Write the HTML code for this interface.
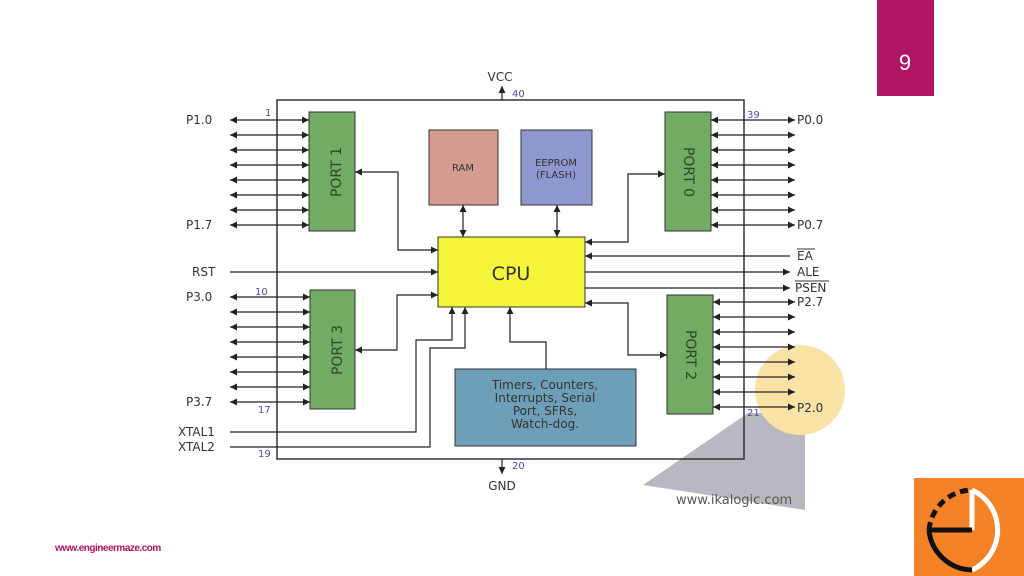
<!DOCTYPE html>
<html><head><meta charset="utf-8"><style>
html,body{margin:0;padding:0;background:#fff;width:1024px;height:576px;overflow:hidden}
svg{display:block}
</style></head><body>
<svg width="1024" height="576" viewBox="0 0 1024 576" xmlns="http://www.w3.org/2000/svg" font-family="'DejaVu Sans','Liberation Sans',sans-serif">
<defs>
<marker id="a" viewBox="0 0 10 10" refX="10" refY="5" markerWidth="9" markerHeight="7" orient="auto-start-reverse" markerUnits="userSpaceOnUse"><path d="M0,0L10,5L0,10z" fill="#222"/></marker>
</defs>
<rect x="877" y="0" width="57" height="96" fill="#b01464"/>
<text x="905" y="70" font-family="'Liberation Sans',sans-serif" font-size="22" fill="#fff" text-anchor="middle">9</text>
<rect x="914" y="478" width="110" height="98" fill="#f58226"/>
<path d="M972,490 A44,44 0 0 1 972,570" fill="none" stroke="#fff" stroke-width="5"/>
<path d="M972,570 A44,44 0 0 1 929,530" fill="none" stroke="#111" stroke-width="5"/>
<path d="M929,530 A44,44 0 0 1 972,490" fill="none" stroke="#111" stroke-width="5" stroke-dasharray="8,5"/>
<line x1="972" y1="490" x2="972" y2="530" stroke="#fff" stroke-width="5"/>
<line x1="929" y1="530" x2="972" y2="530" stroke="#111" stroke-width="5"/>
<text x="55" y="551" font-family="'Liberation Sans',sans-serif" font-size="10" font-weight="bold" fill="#b01464" letter-spacing="-0.5">www.engineermaze.com</text>

<polygon points="643,485 748,413 805,413 805,510" fill="#b8b8c0"/>
<circle cx="800" cy="390" r="45" fill="#fbe3a6"/>
<text x="676" y="504" font-size="13" fill="#555">www.ikalogic.com</text>

<g stroke="#333" stroke-width="1.5" fill="none">
<rect x="277" y="100" width="467" height="359"/>
</g>
<rect x="309" y="112" width="46" height="119" fill="#72ab64" stroke="#333"/>
<rect x="310" y="290" width="45" height="119" fill="#72ab64" stroke="#333"/>
<rect x="665" y="112" width="46" height="119" fill="#72ab64" stroke="#333"/>
<rect x="667" y="295" width="46" height="119" fill="#72ab64" stroke="#333"/>
<rect x="429" y="130" width="69" height="75" fill="#d49b8e" stroke="#333"/>
<rect x="521" y="130" width="71" height="75" fill="#8f97d0" stroke="#333"/>
<rect x="438" y="237" width="147" height="70" fill="#f5f53a" stroke="#333"/>
<rect x="455" y="369" width="181" height="77" fill="#6d9fb8" stroke="#333"/>

<g font-size="13" fill="#333" text-anchor="middle">
<text transform="translate(337,172) rotate(-90)" font-size="14" fill="#2a4a22" dominant-baseline="central">PORT 1</text>
<text transform="translate(338,350) rotate(-90)" font-size="14" fill="#2a4a22" dominant-baseline="central">PORT 3</text>
<text transform="translate(688,172) rotate(90)" font-size="14" fill="#2a4a22" dominant-baseline="central">PORT 0</text>
<text transform="translate(690,355) rotate(90)" font-size="14" fill="#2a4a22" dominant-baseline="central">PORT 2</text>
<text x="463" y="171" font-size="10">RAM</text>
<text x="556" y="166" font-size="10">EEPROM</text>
<text x="556" y="178" font-size="10">(FLASH)</text>
<text x="511" y="280" font-size="19">CPU</text>
<text x="545" y="389" font-size="12">Timers, Counters,</text>
<text x="545" y="402" font-size="12">Interrupts, Serial</text>
<text x="545" y="415" font-size="12">Port, SFRs,</text>
<text x="545" y="428" font-size="12">Watch-dog.</text>
<text x="500" y="81" font-size="12">VCC</text>
<text x="502" y="490" font-size="12">GND</text>
</g>
<g font-size="12" fill="#333">
<text x="186" y="124">P1.0</text>
<text x="186" y="229">P1.7</text>
<text x="192" y="276">RST</text>
<text x="186" y="301">P3.0</text>
<text x="186" y="406">P3.7</text>
<text x="178" y="436">XTAL1</text>
<text x="178" y="451">XTAL2</text>
<text x="797" y="124">P0.0</text>
<text x="797" y="229">P0.7</text>
<text x="797" y="260">EA</text>
<line x1="797" y1="249" x2="815" y2="249" stroke="#333" stroke-width="1"/>
<text x="797" y="276">ALE</text>
<text x="795" y="292">PSEN</text>
<line x1="795" y1="281" x2="829" y2="281" stroke="#333" stroke-width="1"/>
<text x="797" y="306">P2.7</text>
<text x="797" y="412">P2.0</text>
</g>
<g font-size="10" fill="#4a4ab0">
<text x="265" y="116">1</text>
<text x="255" y="295">10</text>
<text x="258" y="413">17</text>
<text x="258" y="457">19</text>
<text x="747" y="118">39</text>
<text x="747" y="416">21</text>
<text x="512" y="97">40</text>
<text x="512" y="469">20</text>
</g>

<g stroke="#222" stroke-width="1.2" fill="none">
<line x1="230" y1="120" x2="309" y2="120" marker-start="url(#a)" marker-end="url(#a)"/>
<line x1="230" y1="135" x2="309" y2="135" marker-start="url(#a)" marker-end="url(#a)"/>
<line x1="230" y1="150" x2="309" y2="150" marker-start="url(#a)" marker-end="url(#a)"/>
<line x1="230" y1="165" x2="309" y2="165" marker-start="url(#a)" marker-end="url(#a)"/>
<line x1="230" y1="180" x2="309" y2="180" marker-start="url(#a)" marker-end="url(#a)"/>
<line x1="230" y1="195" x2="309" y2="195" marker-start="url(#a)" marker-end="url(#a)"/>
<line x1="230" y1="210" x2="309" y2="210" marker-start="url(#a)" marker-end="url(#a)"/>
<line x1="230" y1="225" x2="309" y2="225" marker-start="url(#a)" marker-end="url(#a)"/>
<line x1="230" y1="297" x2="310" y2="297" marker-start="url(#a)" marker-end="url(#a)"/>
<line x1="230" y1="312" x2="310" y2="312" marker-start="url(#a)" marker-end="url(#a)"/>
<line x1="230" y1="327" x2="310" y2="327" marker-start="url(#a)" marker-end="url(#a)"/>
<line x1="230" y1="342" x2="310" y2="342" marker-start="url(#a)" marker-end="url(#a)"/>
<line x1="230" y1="357" x2="310" y2="357" marker-start="url(#a)" marker-end="url(#a)"/>
<line x1="230" y1="372" x2="310" y2="372" marker-start="url(#a)" marker-end="url(#a)"/>
<line x1="230" y1="387" x2="310" y2="387" marker-start="url(#a)" marker-end="url(#a)"/>
<line x1="230" y1="402" x2="310" y2="402" marker-start="url(#a)" marker-end="url(#a)"/>
<line x1="711" y1="120" x2="795" y2="120" marker-start="url(#a)" marker-end="url(#a)"/>
<line x1="711" y1="135" x2="795" y2="135" marker-start="url(#a)" marker-end="url(#a)"/>
<line x1="711" y1="150" x2="795" y2="150" marker-start="url(#a)" marker-end="url(#a)"/>
<line x1="711" y1="165" x2="795" y2="165" marker-start="url(#a)" marker-end="url(#a)"/>
<line x1="711" y1="180" x2="795" y2="180" marker-start="url(#a)" marker-end="url(#a)"/>
<line x1="711" y1="195" x2="795" y2="195" marker-start="url(#a)" marker-end="url(#a)"/>
<line x1="711" y1="210" x2="795" y2="210" marker-start="url(#a)" marker-end="url(#a)"/>
<line x1="711" y1="225" x2="795" y2="225" marker-start="url(#a)" marker-end="url(#a)"/>
<line x1="713" y1="302" x2="795" y2="302" marker-start="url(#a)" marker-end="url(#a)"/>
<line x1="713" y1="317" x2="795" y2="317" marker-start="url(#a)" marker-end="url(#a)"/>
<line x1="713" y1="332" x2="795" y2="332" marker-start="url(#a)" marker-end="url(#a)"/>
<line x1="713" y1="347" x2="795" y2="347" marker-start="url(#a)" marker-end="url(#a)"/>
<line x1="713" y1="362" x2="795" y2="362" marker-start="url(#a)" marker-end="url(#a)"/>
<line x1="713" y1="377" x2="795" y2="377" marker-start="url(#a)" marker-end="url(#a)"/>
<line x1="713" y1="392" x2="795" y2="392" marker-start="url(#a)" marker-end="url(#a)"/>
<line x1="713" y1="407" x2="795" y2="407" marker-start="url(#a)" marker-end="url(#a)"/>
<line x1="790" y1="256" x2="585" y2="256" marker-end="url(#a)"/>
<line x1="585" y1="272" x2="790" y2="272" marker-end="url(#a)"/>
<line x1="585" y1="288" x2="790" y2="288" marker-end="url(#a)"/>
<line x1="230" y1="272" x2="438" y2="272" marker-end="url(#a)"/>
<polyline points="355,172 398,172 398,250 438,250" marker-start="url(#a)" marker-end="url(#a)"/>
<polyline points="355,350 397,350 397,295 438,295" marker-start="url(#a)" marker-end="url(#a)"/>
<polyline points="665,174 628,174 628,242 585,242" marker-start="url(#a)" marker-end="url(#a)"/>
<polyline points="585,303 628,303 628,355 667,355" marker-start="url(#a)" marker-end="url(#a)"/>
<line x1="463" y1="205" x2="463" y2="237" marker-start="url(#a)" marker-end="url(#a)"/>
<line x1="557" y1="205" x2="557" y2="237" marker-start="url(#a)" marker-end="url(#a)"/>
<polyline points="230,432 416,432 416,340 452,340 452,307" marker-end="url(#a)"/>
<polyline points="230,447 430,447 430,348 465,348 465,307" marker-end="url(#a)"/>
<polyline points="546,369 546,342 510,342 510,307" marker-end="url(#a)"/>
<line x1="502" y1="100" x2="502" y2="86" marker-end="url(#a)"/>
<line x1="502" y1="459" x2="502" y2="474" marker-end="url(#a)"/>
</g>
</svg>
</body></html>
